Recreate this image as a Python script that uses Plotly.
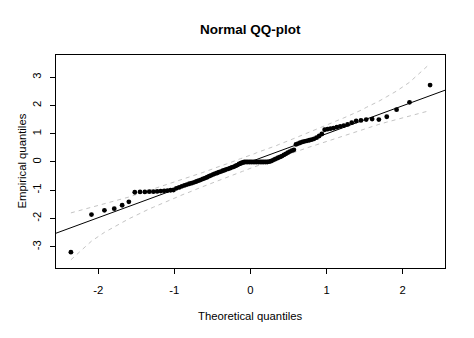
import plotly.graph_objects as go

# Theoretical normal quantiles (n = 108)
theoretical = [-2.359, -2.089, -1.919, -1.790, -1.686, -1.598, -1.520, -1.451, -1.388, -1.330,
               -1.276, -1.226, -1.179, -1.134, -1.091, -1.050, -1.011, -0.974, -0.937, -0.902,
               -0.868, -0.835, -0.803, -0.772, -0.741, -0.711, -0.682, -0.653, -0.625, -0.597,
               -0.570, -0.543, -0.517, -0.490, -0.465, -0.439, -0.414, -0.389, -0.364, -0.340,
               -0.316, -0.292, -0.268, -0.244, -0.220, -0.197, -0.173, -0.150, -0.127, -0.104,
               -0.081, -0.058, -0.035, -0.011, 0.011, 0.035, 0.058, 0.081, 0.104, 0.127,
               0.150, 0.173, 0.197, 0.220, 0.244, 0.268, 0.292, 0.316, 0.340, 0.364,
               0.389, 0.414, 0.439, 0.465, 0.490, 0.517, 0.543, 0.570, 0.597, 0.625,
               0.653, 0.682, 0.711, 0.741, 0.772, 0.803, 0.835, 0.868, 0.902, 0.937,
               0.974, 1.011, 1.050, 1.091, 1.134, 1.179, 1.226, 1.276, 1.330, 1.388,
               1.451, 1.520, 1.598, 1.686, 1.790, 1.919, 2.089, 2.359]

# Empirical (sorted sample) quantiles
empirical = [-3.19, -1.86, -1.71, -1.65, -1.53, -1.41,
             -1.07, -1.06, -1.06, -1.05, -1.05, -1.04, -1.03, -1.02, -1.01, -1.00, -0.99,
             -0.93, -0.90, -0.86, -0.83, -0.80, -0.77, -0.75, -0.72, -0.69, -0.66,
             -0.63, -0.60, -0.57, -0.54, -0.50, -0.47, -0.44, -0.41, -0.39, -0.36,
             -0.34, -0.31, -0.29, -0.26, -0.24, -0.22, -0.19, -0.17, -0.14, -0.11,
             -0.07, -0.04, -0.01, 0.00, 0.00, 0.00, 0.00,
             0.00, 0.00, 0.00, 0.00, 0.00, 0.00, 0.00, 0.00, 0.00, 0.00,
             0.01, 0.03, 0.06, 0.09, 0.12, 0.15, 0.18, 0.21, 0.25, 0.29, 0.33, 0.37, 0.40, 0.43,
             0.62, 0.65, 0.68, 0.71, 0.73, 0.75, 0.77, 0.79, 0.82, 0.86, 0.92, 0.99,
             1.14, 1.16, 1.18, 1.20, 1.23, 1.26, 1.29, 1.33,
             1.39, 1.45, 1.47, 1.50, 1.52, 1.50, 1.60, 1.85, 2.11, 2.72]

# Pointwise 95% envelope (dashed grey curves)
band_lower = [-3.46, -2.80, -2.49, -2.29, -2.13, -2.01, -1.91, -1.81, -1.73, -1.66,
              -1.60, -1.54, -1.48, -1.44, -1.39, -1.34, -1.29, -1.25, -1.21, -1.17,
              -1.13, -1.10, -1.06, -1.03, -0.99, -0.96, -0.93, -0.90, -0.87, -0.84,
              -0.81, -0.78, -0.75, -0.72, -0.70, -0.67, -0.64, -0.62, -0.59, -0.56,
              -0.54, -0.51, -0.49, -0.47, -0.45, -0.43, -0.40, -0.38, -0.35, -0.33,
              -0.31, -0.28, -0.26, -0.24,
              -0.21, -0.19, -0.17, -0.14, -0.12, -0.10, -0.08, -0.05, -0.03, -0.01,
              0.02, 0.04, 0.07, 0.09, 0.11, 0.14, 0.16, 0.19, 0.21, 0.23,
              0.26, 0.28, 0.31, 0.34, 0.36, 0.39, 0.42, 0.44, 0.47, 0.50,
              0.52, 0.55, 0.58, 0.61, 0.64, 0.67, 0.71, 0.74, 0.78, 0.81,
              0.85, 0.89, 0.93, 0.98, 1.03, 1.08, 1.13, 1.19, 1.26, 1.33,
              1.41, 1.50, 1.63, 1.82]
band_upper = [-1.80, -1.61, -1.48, -1.39, -1.31, -1.24, -1.17, -1.11, -1.06, -1.01,
              -0.96, -0.91, -0.87, -0.83, -0.79, -0.76, -0.72, -0.69, -0.65, -0.62,
              -0.59, -0.56, -0.53, -0.50, -0.48, -0.45, -0.42, -0.40, -0.37, -0.34,
              -0.32, -0.29, -0.26, -0.24, -0.21, -0.19, -0.17, -0.14, -0.12, -0.09,
              -0.07, -0.05, -0.02, 0.00, 0.03, 0.05, 0.07, 0.10, 0.12, 0.14,
              0.16, 0.19, 0.21, 0.23,
              0.26, 0.28, 0.30, 0.33, 0.35, 0.37, 0.40, 0.42, 0.45, 0.47,
              0.49, 0.51, 0.53, 0.56, 0.58, 0.61, 0.64, 0.66, 0.69, 0.72,
              0.74, 0.77, 0.80, 0.83, 0.86, 0.89, 0.92, 0.95, 0.98, 1.01,
              1.05, 1.08, 1.12, 1.15, 1.19, 1.23, 1.27, 1.31, 1.36, 1.41,
              1.46, 1.50, 1.56, 1.62, 1.68, 1.75, 1.83, 1.93, 2.03, 2.15,
              2.31, 2.51, 2.82, 3.48]

# Reference line (intercept, slope)
line_intercept = 0.01
line_slope = 0.99

x_ticks = [-2, -1, 0, 1, 2]
y_ticks = [-3, -2, -1, 0, 1, 2, 3]
x_range = [-2.555, 2.555]
y_range = [-3.75, 3.785]

FONT = "Liberation Sans, Arial, Helvetica, sans-serif"

fig = go.Figure()
fig.add_trace(go.Scatter(x=theoretical, y=band_lower, mode="lines",
                         line=dict(color="#c4c4c4", width=1, dash="4px,4px"), hoverinfo="skip"))
fig.add_trace(go.Scatter(x=theoretical, y=band_upper, mode="lines",
                         line=dict(color="#c4c4c4", width=1, dash="4px,4px"), hoverinfo="skip"))
fig.add_trace(go.Scatter(x=x_range,
                         y=[line_intercept + line_slope * v for v in x_range],
                         mode="lines", line=dict(color="black", width=1), hoverinfo="skip"))
fig.add_trace(go.Scatter(x=theoretical, y=empirical, mode="markers",
                         marker=dict(color="black", size=4.8, line=dict(width=0))))

fig.update_layout(
    width=474, height=338,
    margin=dict(l=56, r=29, t=55, b=70),
    paper_bgcolor="white", plot_bgcolor="white",
    showlegend=False,
    font=dict(family=FONT, size=11.3, color="black"),
    xaxis=dict(range=x_range, tickvals=x_ticks, ticktext=[str(v) for v in x_ticks],
               showgrid=False, zeroline=False, showline=True, linecolor="black", linewidth=1,
               mirror=True, ticks="outside", ticklen=5, tickcolor="black", tickwidth=1,
               ticklabelstandoff=6, tickfont=dict(family=FONT, size=11.3, color="black")),
    yaxis=dict(range=y_range, tickvals=y_ticks, ticktext=[str(v) for v in y_ticks],
               showgrid=False, zeroline=False, showline=True, linecolor="black", linewidth=1,
               mirror=True, ticks="outside", ticklen=5, tickcolor="black", tickwidth=1,
               tickangle=-90, ticklabelstandoff=4,
               tickfont=dict(family=FONT, size=11.3, color="black")),
    annotations=[
        dict(text="<b>Normal QQ-plot</b>", x=0.5, y=28, xref="paper", yref="paper",
             showarrow=False, font=dict(family=FONT, size=13.5, color="black"),
             xanchor="center", yanchor="middle"),
        dict(text="Theoretical quantiles", x=0.5, y=0, xref="paper", yref="paper",
             showarrow=False, font=dict(family=FONT, size=11.3, color="black"),
             xanchor="center", yanchor="middle"),
        dict(text="Empirical quantiles", x=0, y=0.5, xref="paper", yref="paper",
             showarrow=False, textangle=-90, font=dict(family=FONT, size=11.3, color="black"),
             xanchor="center", yanchor="middle"),
    ],
)
# position titles in pixels relative to plot area (plot area: 56..445 x, 55..268 y)
ph = 338 - 55 - 70
pw = 474 - 56 - 29
fig.layout.annotations[0].y = 1 + (55 - 29) / ph
fig.layout.annotations[1].y = -(316 - 268) / ph
fig.layout.annotations[2].x = -(56 - 21) / pw
fig.write_html("out.html")
